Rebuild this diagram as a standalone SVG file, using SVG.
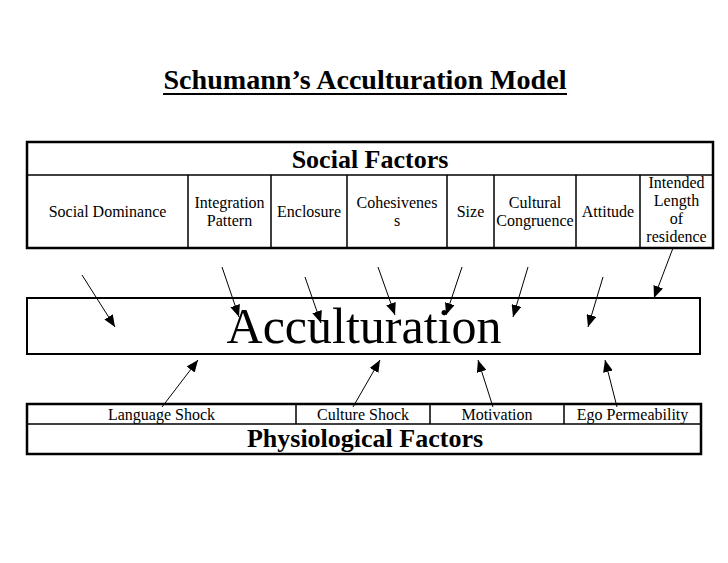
<svg xmlns="http://www.w3.org/2000/svg" width="728" height="563" viewBox="0 0 728 563">
<style>
  .t { font-family: "Liberation Serif", "Times New Roman", serif; fill: #000; text-anchor: middle; }
  .cell { font-size: 16px; }
  .head { font-size: 26px; font-weight: bold; }
  .outer { fill: #fff; stroke: #000; stroke-width: 2.5; }
  .inner { stroke: #000; stroke-width: 1.5; fill: none; }
  .arrow { stroke: #000; stroke-width: 1; fill: none; marker-end: url(#ah); }
</style>
<defs>
  <marker id="ah" markerUnits="userSpaceOnUse" markerWidth="13" markerHeight="10" refX="12" refY="5" orient="auto">
    <path d="M0,0 L12,5 L0,10 z" fill="#000"/>
  </marker>
</defs>
<rect width="728" height="563" fill="#fff"/>

<g id="title">
  <text class="t" x="365" y="89" font-size="28" font-weight="bold" textLength="403" lengthAdjust="spacingAndGlyphs">Schumann’s Acculturation Model</text>
  <line x1="163" y1="94" x2="567" y2="94" stroke="#000" stroke-width="2"/>
</g>

<g id="social-factors">
  <rect class="outer" x="27" y="142" width="686" height="106"/>
  <line class="inner" x1="27" y1="175" x2="713" y2="175"/>
  <line class="inner" x1="188" y1="175" x2="188" y2="248"/>
  <line class="inner" x1="271" y1="175" x2="271" y2="248"/>
  <line class="inner" x1="347" y1="175" x2="347" y2="248"/>
  <line class="inner" x1="447" y1="175" x2="447" y2="248"/>
  <line class="inner" x1="494" y1="175" x2="494" y2="248"/>
  <line class="inner" x1="576" y1="175" x2="576" y2="248"/>
  <line class="inner" x1="640" y1="175" x2="640" y2="248"/>
  <text class="t head" x="370" y="168">Social Factors</text>
</g>
<g id="social-dominance"><text class="t cell" x="107.5" y="217">Social Dominance</text></g>
<g id="integration-pattern"><text class="t cell" x="229.5" y="208">Integration</text><text class="t cell" x="229.5" y="226">Pattern</text></g>
<g id="enclosure"><text class="t cell" x="309" y="217">Enclosure</text></g>
<g id="cohesiveness"><text class="t cell" x="397" y="208">Cohesivenes</text><text class="t cell" x="397" y="226">s</text></g>
<g id="size"><text class="t cell" x="470.5" y="217">Size</text></g>
<g id="cultural-congruence"><text class="t cell" x="535" y="208">Cultural</text><text class="t cell" x="535" y="226">Congruence</text></g>
<g id="attitude"><text class="t cell" x="608" y="217">Attitude</text></g>
<g id="intended-length">
  <text class="t cell" x="676.5" y="188">Intended</text>
  <text class="t cell" x="676.5" y="206">Length</text>
  <text class="t cell" x="676.5" y="224">of</text>
  <text class="t cell" x="676.5" y="242">residence</text>
</g>

<g id="acculturation">
  <rect x="27" y="298" width="673" height="56" fill="#fff" stroke="#000" stroke-width="2"/>
  <text class="t" x="364" y="343" font-size="50">Acculturation</text>
</g>

<g id="physiological-factors">
  <rect class="outer" x="27" y="404" width="674" height="50"/>
  <line class="inner" x1="27" y1="424" x2="701" y2="424"/>
  <line class="inner" x1="296" y1="404" x2="296" y2="424"/>
  <line class="inner" x1="430" y1="404" x2="430" y2="424"/>
  <line class="inner" x1="564" y1="404" x2="564" y2="424"/>
  <text class="t head" x="365" y="447">Physiological Factors</text>
</g>
<g id="language-shock"><text class="t cell" x="161.5" y="420">Language Shock</text></g>
<g id="culture-shock"><text class="t cell" x="363" y="420">Culture Shock</text></g>
<g id="motivation"><text class="t cell" x="497" y="420">Motivation</text></g>
<g id="ego-permeability"><text class="t cell" x="632.5" y="420">Ego Permeability</text></g>

<g id="connectors">
  <line class="arrow" x1="82" y1="275" x2="115" y2="327"/>
  <line class="arrow" x1="222" y1="267" x2="239" y2="317"/>
  <line class="arrow" x1="305" y1="277" x2="321" y2="323"/>
  <line class="arrow" x1="378" y1="267" x2="395" y2="315"/>
  <line class="arrow" x1="462" y1="267" x2="446" y2="315"/>
  <line class="arrow" x1="528" y1="267" x2="513" y2="317"/>
  <line class="arrow" x1="603" y1="277" x2="588" y2="327"/>
  <line class="arrow" x1="673" y1="248" x2="654" y2="298"/>
  <line class="arrow" x1="162" y1="407" x2="198" y2="360"/>
  <line class="arrow" x1="353" y1="407" x2="380" y2="360"/>
  <line class="arrow" x1="493" y1="407" x2="478" y2="360"/>
  <line class="arrow" x1="617" y1="407" x2="605" y2="360"/>
</g>
</svg>
